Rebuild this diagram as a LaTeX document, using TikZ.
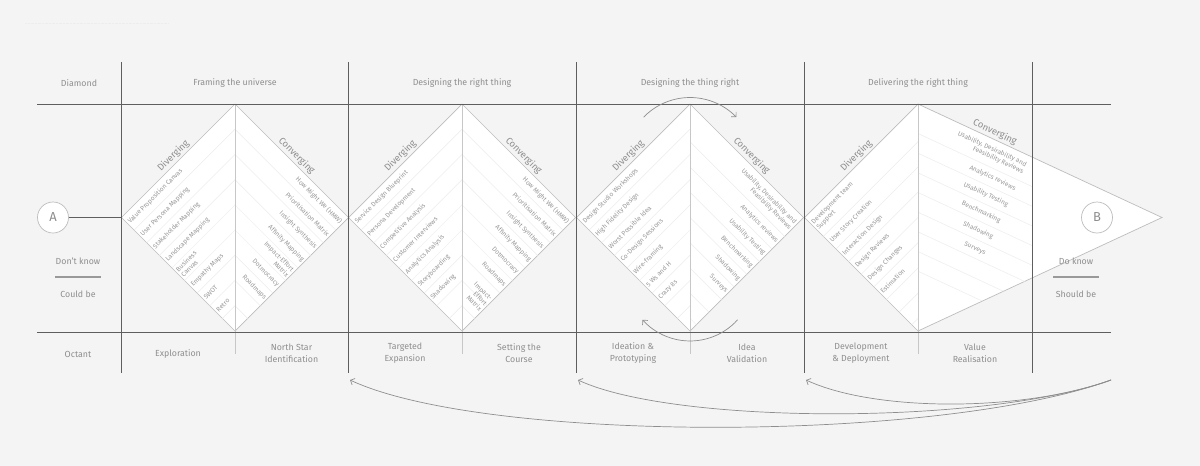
\documentclass[tikz,border=0pt]{standalone}
\usepackage{fontspec}
\setmainfont{Fira Sans}
\usetikzlibrary{arrows.meta,positioning}
\definecolor{bg}{HTML}{F4F4F4}
\definecolor{gridc}{HTML}{5E5E5E}
\definecolor{ink}{HTML}{8E8E8E}
\definecolor{edgec}{HTML}{BDBDBD}
\definecolor{sepc}{HTML}{EDEDED}

\tikzset{
  head/.style={text=ink, font=\fontsize{8.8}{12}\selectfont, align=center},
  phase/.style={text=ink, font=\fontsize{9.4}{11}\selectfont, inner sep=2pt},
  item/.style={text=ink!90, font=\fontsize{6.5}{7.4}\selectfont, inner sep=1.6pt},
  divitem/.style={item, anchor=west, rotate=45, align=left},
  convitem/.style={item, anchor=east, rotate=-45, align=right},
  triitem/.style={item, anchor=east, rotate=-24.94, align=right},
  gridline/.style={draw=gridc, line width=1pt},
  midline/.style={draw=edgec!85, line width=.6pt},
  diamondshape/.style={draw=edgec, line width=.7pt, fill=white},
  stripline/.style={draw=sepc, line width=.5pt},
  turnarrow/.style={draw=ink, line width=.7pt, -{Straight Barb[length=3.5pt,width=7pt]}},
  endpoint/.style={circle, draw=edgec, fill=white, line width=.7pt, minimum size=31pt, inner sep=0pt, text=ink, font=\fontsize{13}{14}\selectfont},
  fracrule/.style={draw=ink!90, line width=1.1pt},
}

\begin{document}
\begin{tikzpicture}[x=1pt,y=-1pt]
\fill[bg] (0,0) rectangle (1200,466);
\useasboundingbox (0,0) rectangle (1200,466);
\draw[sepc, densely dotted] (25,23) -- (168,23);

% diamonds
\foreach \cx in {235,462,690}
  \draw[diamondshape] (\cx-113.5,217.5) -- (\cx,104) -- (\cx+113.5,217.5) -- (\cx,331) -- cycle;
\draw[diamondshape] (804.5,217.5) -- (918,104) -- (1162,217.5) -- (918,331) -- cycle;
\coordinate (d1w) at (121.5,217.5);

% Framing the universe
\begin{scope}[shift={(235,217.5)}]
\foreach \j in {1,...,8}{
  \draw[stripline] ({-113.5+\j*12.611},{\j*12.611}) -- (0,{-113.5+2*\j*12.611});
  \draw[stripline] ({113.5-\j*12.611},{\j*12.611}) -- (0,{-113.5+2*\j*12.611});
}
\node[phase, anchor=south, rotate=45] (div1) at (-56.75,-56.75) {Diverging};
\node[phase, anchor=south, rotate=-45] (conv1) at (56.75,-56.75) {Converging};
\foreach \k/\t [count=\n] in {0/{Value Proposition Canvas}, 1/{User Persona Mapping},
    2/{Stakeholder Mapping}, 3/{Landscape Mapping}, 4/{Business\\Canvas},
    5/{Empathy Maps}, 6/{SWOT}, 7/{Retro}}
  \node[divitem] (fu-d\n) at ({-113.5+(\k+0.5)*12.611},{(\k+0.5)*12.611}) {\t};
\foreach \k/\t [count=\n] in {0/{How Might We (HMW)}, 1/{Prioritisation Matrix},
    2/{Insight Synthesis}, 3/{Affinity Mapping}, 4/{Impact-Effort\\Matrix},
    5/{Dotmocracy}, 6/{Roadmaps}}
  \node[convitem] (fu-c\n) at ({113.5-(\k+0.5)*12.611},{(\k+0.5)*12.611}) {\t};
\end{scope}

% Designing the right thing
\begin{scope}[shift={(462,217.5)}]
\foreach \j in {1,...,8}{
  \draw[stripline] ({-113.5+\j*12.611},{\j*12.611}) -- (0,{-113.5+2*\j*12.611});
  \draw[stripline] ({113.5-\j*12.611},{\j*12.611}) -- (0,{-113.5+2*\j*12.611});
}
\node[phase, anchor=south, rotate=45] (div2) at (-56.75,-56.75) {Diverging};
\node[phase, anchor=south, rotate=-45] (conv2) at (56.75,-56.75) {Converging};
\foreach \k/\t [count=\n] in {0/{Service Design Blueprint}, 1/{Persona Development},
    2/{Competitive Analysis}, 3/{Customer Interviews}, 4/{Analytics Analysis},
    5/{Storyboarding}, 6/{Shadowing}}
  \node[divitem] (rt-d\n) at ({-113.5+(\k+0.5)*12.611},{(\k+0.5)*12.611}) {\t};
\foreach \k/\t [count=\n] in {0/{How Might We (HMW)}, 1/{Prioritisation Matrix},
    2/{Insight Synthesis}, 3/{Affinity Mapping}, 4/{Dotmocracy},
    5/{Roadmaps}, 6.5/{Impact-\\Effort\\Matrix}}
  \node[convitem] (rt-c\n) at ({113.5-(\k+0.5)*12.611},{(\k+0.5)*12.611}) {\t};
\end{scope}

% Designing the thing right
\begin{scope}[shift={(690,217.5)}]
\foreach \j in {1,...,8}{
  \draw[stripline] ({-113.5+\j*12.611},{\j*12.611}) -- (0,{-113.5+2*\j*12.611});
  \draw[stripline] ({113.5-(\j+0.5)*12.611},{(\j+0.5)*12.611}) -- (0,{-113.5+2*(\j+0.5)*12.611});
}
\node[phase, anchor=south, rotate=45] (div3) at (-56.75,-56.75) {Diverging};
\node[phase, anchor=south, rotate=-45] (conv3) at (56.75,-56.75) {Converging};
\foreach \k/\t [count=\n] in {0/{Design Studio Workshops}, 1/{High Fidelity Design},
    2/{Worst Possible Idea}, 3/{Co-Design Sessions}, 4/{Wire-framing},
    5/{5 Ws and H}, 6/{Crazy 8s}}
  \node[divitem] (tr-d\n) at ({-113.5+(\k+0.5)*12.611},{(\k+0.5)*12.611}) {\t};
\foreach \k/\t [count=\n] in {0.25/{Usability, Desirability and\\Feasibility Reviews},
    1.5/{Analytics reviews}, 2.5/{Usability Testing}, 3.5/{Benchmarking},
    4.5/{Shadowing}, 5.5/{Surveys}}
  \node[convitem] (tr-c\n) at ({113.5-(\k+0.5)*12.611},{(\k+0.5)*12.611}) {\t};
\end{scope}

% Delivering the right thing
\begin{scope}[shift={(918,217.5)}]
\foreach \j in {1,...,8}
  \draw[stripline] ({-113.5+(\j+0.5)*12.611},{(\j+0.5)*12.611}) -- (0,{-113.5+2*(\j+0.5)*12.611});
\begin{scope}
\clip (0,-113.5) -- (244,0) -- (0,113.5) -- cycle;
\foreach \j in {1,...,8}
  \draw[stripline] (0,{-113.5+(\j+0.5)*19.67}) -- (114,{-113.5+(\j+0.5)*19.67+53.03});
\end{scope}
\node[phase, anchor=south, rotate=45] (div4) at (-56.75,-56.75) {Diverging};
\node[phase, anchor=south, rotate=-24.94] (conv4) at (74,-79.1) {Converging};
\foreach \k/\t [count=\n] in {0.25/{Development team\\Support}, 1.5/{User Story Creation},
    2.5/{Interaction Design}, 3.5/{Design Reviews}, 4.5/{Design Changes}, 5.5/{Estimation}}
  \node[divitem] (dr-d\n) at ({-113.5+(\k+0.5)*12.611},{(\k+0.5)*12.611}) {\t};
\foreach \k/\t [count=\n] in {0.25/{Usability, Desirability and\\Feasibility Reviews},
    1.5/{Analytics reviews}, 2.5/{Usability Testing}, 3.5/{Benchmarking},
    4.5/{Shadowing}, 5.5/{Surveys}}
  \node[triitem] (dr-c\n) at ({114-0.4218*(\k+0.5)*17.835},{-60.47+0.9067*(\k+0.5)*17.835}) {\t};
\end{scope}

% middle lines and grid
\foreach \cx in {235,462,690,918}
  \draw[midline] (\cx,104) -- (\cx,354);
\draw[gridline] (37,104) -- (1111,104);
\draw[gridline] (37,332) -- (1111,332);
\foreach \gx in {121,348,576,804,1032}
  \draw[gridline] (\gx,62) -- (\gx,373);

% headers
\node[head] (hdia) at (79,83) {Diamond};
\node[head] (h1) at (235,83) {Framing the universe};
\node[head] (h2) at (462,83) {Designing the right thing};
\node[head] (h3) at (690,83) {Designing the thing right};
\node[head] (h4) at (918,83) {Delivering the right thing};

% octants
\node[head] (oct) at (78,354) {Octant};
\node[head] (o1) at (178,354) {Exploration};
\node[head] (o2) at (291.5,353) {North Star\\Identification};
\node[head] (o3) at (405,353) {Targeted\\Expansion};
\node[head] (o4) at (519,353) {Setting the\\Course};
\node[head] (o5) at (633,353) {Ideation \&\\Prototyping};
\node[head] (o6) at (747,353) {Idea\\Validation};
\node[head] (o7) at (861,353) {Development\\\& Deployment};
\node[head] (o8) at (975,353) {Value\\Realisation};

% start and end
\node[endpoint] (A) at (53,217.5) {A};
\draw[gridline] (A) -- (d1w);
\node[head] (dk) at (78,261) {Don't know};
\draw[fracrule] (55,277) -- (101,277);
\node[head] (cb) at (78,294) {Could be};
\node[endpoint] (B) at (1097,217.5) {B};
\node[head] (dok) at (1076,261) {Do know};
\draw[fracrule] (1053,277) -- (1099,277);
\node[head] (sb) at (1076,294) {Should be};

% loops round the third diamond
\draw[turnarrow] (643.6,117.2) arc[start angle=-136, end angle=-44, radius=64.5];
\draw[turnarrow] (737.6,319.8) arc[start angle=42, end angle=138, radius=64];

% feedback
\coordinate (fb) at (1111,380);
\coordinate (t1) at (350,380);
\coordinate (t2) at (578,380);
\coordinate (t3) at (806,380);
\draw[turnarrow] (fb) .. controls (938,443) and (485,443) .. (t1);
\draw[turnarrow] (fb) .. controls (986,425) and (675,425) .. (t2);
\draw[turnarrow] (fb) .. controls (1022,412) and (875,412) .. (t3);
\end{tikzpicture}
\end{document}
